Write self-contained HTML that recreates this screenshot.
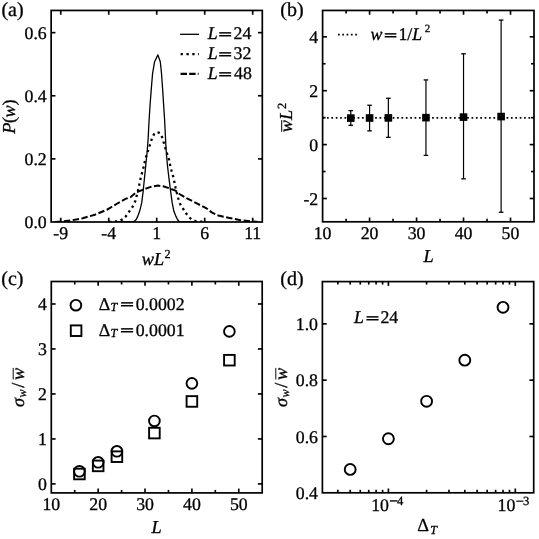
<!DOCTYPE html>
<html><head><meta charset="utf-8"><style>
html,body{margin:0;padding:0;background:#fff;}
svg{display:block;}
text{font-family:"Liberation Serif", "Times New Roman", serif;fill:#000;stroke:#000;stroke-width:0.3px;text-rendering:geometricPrecision;}
</style></head><body>
<svg width="539" height="539" viewBox="0 0 539 539">
<rect width="539" height="539" fill="#fff"/>
<defs><clipPath id="ca"><rect x="51.15" y="10.45" width="211.15" height="211.55"/></clipPath></defs>
<g clip-path="url(#ca)" fill="none" stroke="#000">
<polyline points="55,222 62.2,221.3 72.4,220.2 82.7,218.2 94.9,214.7 107.1,209.6 117.3,203.5 125.5,198.8 130.6,197.2 135.7,192.7 143.9,189.2 152,186.5 158,185.6 163.2,186.3 169.3,188.3 175.4,190.6 179.5,194 185.6,197.6 195.8,202.9 206,208 212.1,212.6 218.3,215.5 228.5,217.8 240.7,220.2 250.9,221.3 258,222" stroke-width="2.0" stroke-dasharray="6.4 2.5"/>
<polyline points="109.1,222 118.1,221.2 122.6,219.4 125.3,217 127.6,214 130.3,210 133.1,206 135.3,201 136.6,196 138.6,188 139.8,182 140.9,177 142.6,171 143.9,166 145.1,160 146.8,154.5 148.61,149 150.37,143.5 152.23,137.5 154.47,133.4 155.78,132.6 157.29,132.4 157.29,132.4 158.78,132.6 160.07,133.4 162.23,137.5 163.97,143.5 165.61,149 167.4,154.5 169.1,160 170.3,166 171.6,171 173.3,177 174.4,182 175.6,188 177.6,196 178.9,201 181.1,206 183.9,210 186.6,214 188.9,217 191.6,219.4 196.1,221.2 205.1,222" stroke-width="2.3" stroke-dasharray="2.3 3.5"/>
<polyline points="117,222 132.5,221.8 134.7,221 136.2,219.5 137.5,216.9 139.6,211.3 141.7,202.9 143.1,191.8 144.5,177.9 145.9,163.9 147.3,150 148.2,137.5 149.1,120 150.1,104.5 151.3,88.9 152.6,73.3 154.6,61.7 157.9,54.9 160.3,61.7 161.5,73.3 162.6,88.9 163.6,104.5 164.6,120 165.6,140 166.1,150 167.4,165 168.9,177.9 170.7,191.8 172.2,202.9 173.9,211.3 176.2,216.9 177.5,219.5 178.6,221 180.5,221.8 197,222" stroke-width="1.3" stroke-linejoin="round"/>
</g>
<rect x="51.15" y="10.45" width="211.15" height="211.55" fill="none" stroke="#000" stroke-width="1.7"/>
<line x1="60.75" y1="222" x2="60.75" y2="217.7" stroke="#000" stroke-width="1.65" />
<line x1="60.75" y1="10.45" x2="60.75" y2="14.75" stroke="#000" stroke-width="1.65" />
<line x1="108.74" y1="222" x2="108.74" y2="217.7" stroke="#000" stroke-width="1.65" />
<line x1="108.74" y1="10.45" x2="108.74" y2="14.75" stroke="#000" stroke-width="1.65" />
<line x1="156.72" y1="222" x2="156.72" y2="217.7" stroke="#000" stroke-width="1.65" />
<line x1="156.72" y1="10.45" x2="156.72" y2="14.75" stroke="#000" stroke-width="1.65" />
<line x1="204.71" y1="222" x2="204.71" y2="217.7" stroke="#000" stroke-width="1.65" />
<line x1="204.71" y1="10.45" x2="204.71" y2="14.75" stroke="#000" stroke-width="1.65" />
<line x1="252.7" y1="222" x2="252.7" y2="217.7" stroke="#000" stroke-width="1.65" />
<line x1="252.7" y1="10.45" x2="252.7" y2="14.75" stroke="#000" stroke-width="1.65" />
<line x1="51.15" y1="158.88" x2="55.45" y2="158.88" stroke="#000" stroke-width="1.65" />
<line x1="262.3" y1="158.88" x2="258" y2="158.88" stroke="#000" stroke-width="1.65" />
<line x1="51.15" y1="95.76" x2="55.45" y2="95.76" stroke="#000" stroke-width="1.65" />
<line x1="262.3" y1="95.76" x2="258" y2="95.76" stroke="#000" stroke-width="1.65" />
<line x1="51.15" y1="32.64" x2="55.45" y2="32.64" stroke="#000" stroke-width="1.65" />
<line x1="262.3" y1="32.64" x2="258" y2="32.64" stroke="#000" stroke-width="1.65" />
<text x="60.75" y="238.7" font-size="17.8" text-anchor="middle" >-9</text>
<text x="108.74" y="238.7" font-size="17.8" text-anchor="middle" >-4</text>
<text x="156.72" y="238.7" font-size="17.8" text-anchor="middle" >1</text>
<text x="204.71" y="238.7" font-size="17.8" text-anchor="middle" >6</text>
<text x="252.7" y="238.7" font-size="17.8" text-anchor="middle" >11</text>
<text x="46.75" y="228.2" font-size="17.8" text-anchor="end" >0.0</text>
<text x="46.75" y="165.08" font-size="17.8" text-anchor="end" >0.2</text>
<text x="46.75" y="101.96" font-size="17.8" text-anchor="end" >0.4</text>
<text x="46.75" y="38.84" font-size="17.8" text-anchor="end" >0.6</text>
<line x1="180.1" y1="34.3" x2="199" y2="34.3" stroke="#000" stroke-width="1.3" />
<line x1="180.6" y1="54.1" x2="198.9" y2="54.1" stroke="#000" stroke-width="2.3" stroke-dasharray="2.3 3.55"/>
<line x1="180.6" y1="73.8" x2="198.6" y2="73.8" stroke="#000" stroke-width="2.2" stroke-dasharray="6.4 2.2"/>
<text x="207.71" y="38.8" font-size="17.8" font-style="italic" >L</text>
<text transform="translate(218.42,39.3) scale(1.329,0.787)" font-size="17.8" style="stroke-width:0.75px">=</text>
<text x="233.62" y="38.8" font-size="17.8" >24</text>
<text x="207.71" y="58.8" font-size="17.8" font-style="italic" >L</text>
<text transform="translate(218.42,59.3) scale(1.329,0.787)" font-size="17.8" style="stroke-width:0.75px">=</text>
<text x="233.55" y="58.8" font-size="17.8" >32</text>
<text x="207.71" y="78.8" font-size="17.8" font-style="italic" >L</text>
<text transform="translate(218.42,79.3) scale(1.329,0.787)" font-size="17.8" style="stroke-width:0.75px">=</text>
<text x="234.04" y="78.8" font-size="17.8" >48</text>
<text x="141.76" y="264.5" font-size="18.3" font-style="italic" >wL</text>
<text x="164.56" y="257.9" font-size="12.2" >2</text>
<g transform="translate(15,133.8) rotate(-90)">
<text x="0.1" y="0" font-size="18.3" font-style="italic">P</text>
<text x="10.79" y="0" font-size="18.3">(</text>
<text x="16.26" y="0" font-size="18.3" font-style="italic">w</text>
<text x="28.21" y="0" font-size="18.3">)</text>
</g>
<text x="1.42" y="15.6" font-size="20.0" >(a)</text>
<rect x="322.6" y="10.45" width="211.4" height="211.35" fill="none" stroke="#000" stroke-width="1.7"/>
<line x1="369.58" y1="221.8" x2="369.58" y2="217.5" stroke="#000" stroke-width="1.65" />
<line x1="369.58" y1="10.45" x2="369.58" y2="14.75" stroke="#000" stroke-width="1.65" />
<line x1="416.56" y1="221.8" x2="416.56" y2="217.5" stroke="#000" stroke-width="1.65" />
<line x1="416.56" y1="10.45" x2="416.56" y2="14.75" stroke="#000" stroke-width="1.65" />
<line x1="463.53" y1="221.8" x2="463.53" y2="217.5" stroke="#000" stroke-width="1.65" />
<line x1="463.53" y1="10.45" x2="463.53" y2="14.75" stroke="#000" stroke-width="1.65" />
<line x1="510.51" y1="221.8" x2="510.51" y2="217.5" stroke="#000" stroke-width="1.65" />
<line x1="510.51" y1="10.45" x2="510.51" y2="14.75" stroke="#000" stroke-width="1.65" />
<line x1="346.09" y1="221.8" x2="346.09" y2="218.8" stroke="#000" stroke-width="1.65" />
<line x1="346.09" y1="10.45" x2="346.09" y2="13.45" stroke="#000" stroke-width="1.65" />
<line x1="393.07" y1="221.8" x2="393.07" y2="218.8" stroke="#000" stroke-width="1.65" />
<line x1="393.07" y1="10.45" x2="393.07" y2="13.45" stroke="#000" stroke-width="1.65" />
<line x1="440.04" y1="221.8" x2="440.04" y2="218.8" stroke="#000" stroke-width="1.65" />
<line x1="440.04" y1="10.45" x2="440.04" y2="13.45" stroke="#000" stroke-width="1.65" />
<line x1="487.02" y1="221.8" x2="487.02" y2="218.8" stroke="#000" stroke-width="1.65" />
<line x1="487.02" y1="10.45" x2="487.02" y2="13.45" stroke="#000" stroke-width="1.65" />
<line x1="322.6" y1="198.5" x2="326.9" y2="198.5" stroke="#000" stroke-width="1.65" />
<line x1="534" y1="198.5" x2="529.7" y2="198.5" stroke="#000" stroke-width="1.65" />
<line x1="322.6" y1="144.6" x2="326.9" y2="144.6" stroke="#000" stroke-width="1.65" />
<line x1="534" y1="144.6" x2="529.7" y2="144.6" stroke="#000" stroke-width="1.65" />
<line x1="322.6" y1="90.7" x2="326.9" y2="90.7" stroke="#000" stroke-width="1.65" />
<line x1="534" y1="90.7" x2="529.7" y2="90.7" stroke="#000" stroke-width="1.65" />
<line x1="322.6" y1="36.8" x2="326.9" y2="36.8" stroke="#000" stroke-width="1.65" />
<line x1="534" y1="36.8" x2="529.7" y2="36.8" stroke="#000" stroke-width="1.65" />
<line x1="322.6" y1="171.55" x2="325.6" y2="171.55" stroke="#000" stroke-width="1.65" />
<line x1="534" y1="171.55" x2="531" y2="171.55" stroke="#000" stroke-width="1.65" />
<line x1="322.6" y1="117.65" x2="325.6" y2="117.65" stroke="#000" stroke-width="1.65" />
<line x1="534" y1="117.65" x2="531" y2="117.65" stroke="#000" stroke-width="1.65" />
<line x1="322.6" y1="63.75" x2="325.6" y2="63.75" stroke="#000" stroke-width="1.65" />
<line x1="534" y1="63.75" x2="531" y2="63.75" stroke="#000" stroke-width="1.65" />
<text x="322.6" y="238.7" font-size="17.8" text-anchor="middle" >10</text>
<text x="369.58" y="238.7" font-size="17.8" text-anchor="middle" >20</text>
<text x="416.56" y="238.7" font-size="17.8" text-anchor="middle" >30</text>
<text x="463.53" y="238.7" font-size="17.8" text-anchor="middle" >40</text>
<text x="510.51" y="238.7" font-size="17.8" text-anchor="middle" >50</text>
<text x="318.2" y="204.7" font-size="17.8" text-anchor="end" >-2</text>
<text x="318.2" y="150.8" font-size="17.8" text-anchor="end" >0</text>
<text x="318.2" y="96.9" font-size="17.8" text-anchor="end" >2</text>
<text x="318.2" y="43" font-size="17.8" text-anchor="end" >4</text>
<line x1="322.6" y1="117.85" x2="534" y2="117.85" stroke="#000" stroke-width="1.7" stroke-dasharray="1.7 2.68"/>
<line x1="350.79" y1="110.64" x2="350.79" y2="125.3" stroke="#000" stroke-width="1.2" />
<line x1="348.49" y1="110.64" x2="353.09" y2="110.64" stroke="#000" stroke-width="1.3" />
<line x1="348.49" y1="125.3" x2="353.09" y2="125.3" stroke="#000" stroke-width="1.3" />
<rect x="346.99" y="114.31" width="7.6" height="7.6" fill="#000"/>
<line x1="369.58" y1="105.25" x2="369.58" y2="130.86" stroke="#000" stroke-width="1.2" />
<line x1="367.28" y1="105.25" x2="371.88" y2="105.25" stroke="#000" stroke-width="1.3" />
<line x1="367.28" y1="130.86" x2="371.88" y2="130.86" stroke="#000" stroke-width="1.3" />
<rect x="365.78" y="114.2" width="7.6" height="7.6" fill="#000"/>
<line x1="388.37" y1="98.25" x2="388.37" y2="137.32" stroke="#000" stroke-width="1.2" />
<line x1="386.07" y1="98.25" x2="390.67" y2="98.25" stroke="#000" stroke-width="1.3" />
<line x1="386.07" y1="137.32" x2="390.67" y2="137.32" stroke="#000" stroke-width="1.3" />
<rect x="384.57" y="114.12" width="7.6" height="7.6" fill="#000"/>
<line x1="425.95" y1="79.92" x2="425.95" y2="155.38" stroke="#000" stroke-width="1.2" />
<line x1="423.65" y1="79.92" x2="428.25" y2="79.92" stroke="#000" stroke-width="1.3" />
<line x1="423.65" y1="155.38" x2="428.25" y2="155.38" stroke="#000" stroke-width="1.3" />
<rect x="422.15" y="113.85" width="7.6" height="7.6" fill="#000"/>
<line x1="463.53" y1="53.78" x2="463.53" y2="178.83" stroke="#000" stroke-width="1.2" />
<line x1="461.23" y1="53.78" x2="465.83" y2="53.78" stroke="#000" stroke-width="1.3" />
<line x1="461.23" y1="178.83" x2="465.83" y2="178.83" stroke="#000" stroke-width="1.3" />
<rect x="459.73" y="113.31" width="7.6" height="7.6" fill="#000"/>
<line x1="501.12" y1="20.09" x2="501.12" y2="212.24" stroke="#000" stroke-width="1.2" />
<line x1="498.82" y1="20.09" x2="503.42" y2="20.09" stroke="#000" stroke-width="1.3" />
<line x1="498.82" y1="212.24" x2="503.42" y2="212.24" stroke="#000" stroke-width="1.3" />
<rect x="497.32" y="112.77" width="7.6" height="7.6" fill="#000"/>
<line x1="338" y1="34.6" x2="357" y2="34.6" stroke="#000" stroke-width="1.7" stroke-dasharray="1.7 2.6"/>
<text x="370.57" y="39.7" font-size="17.8" font-style="italic" >w</text>
<text transform="translate(384.04,39.5) scale(1.305,0.787)" font-size="17.8" style="stroke-width:0.75px">=</text>
<text x="398.43" y="39.7" font-size="17.8">1/<tspan font-style="italic">L</tspan></text>
<text x="424.82" y="31.8" font-size="11.0" >2</text>
<text x="423.62" y="261.5" font-size="18.3" font-style="italic" >L</text>
<g transform="translate(291.8,131.8) rotate(-90)">
<text x="-0.44" y="0" font-size="18.3" font-style="italic">w</text>
<text x="11.92" y="0" font-size="18.3" font-style="italic">L</text>
<text x="22.85" y="-6" font-size="12.5">2</text>
<line x1="0" y1="-10.1" x2="11.7" y2="-10.1" stroke="#000" stroke-width="1.0"/>
</g>
<text x="280.22" y="15.6" font-size="20.0" >(b)</text>
<rect x="51.3" y="281.5" width="210.9" height="211.4" fill="none" stroke="#000" stroke-width="1.7"/>
<line x1="98.17" y1="492.9" x2="98.17" y2="488.6" stroke="#000" stroke-width="1.65" />
<line x1="98.17" y1="281.5" x2="98.17" y2="285.8" stroke="#000" stroke-width="1.65" />
<line x1="145.03" y1="492.9" x2="145.03" y2="488.6" stroke="#000" stroke-width="1.65" />
<line x1="145.03" y1="281.5" x2="145.03" y2="285.8" stroke="#000" stroke-width="1.65" />
<line x1="191.9" y1="492.9" x2="191.9" y2="488.6" stroke="#000" stroke-width="1.65" />
<line x1="191.9" y1="281.5" x2="191.9" y2="285.8" stroke="#000" stroke-width="1.65" />
<line x1="238.77" y1="492.9" x2="238.77" y2="488.6" stroke="#000" stroke-width="1.65" />
<line x1="238.77" y1="281.5" x2="238.77" y2="285.8" stroke="#000" stroke-width="1.65" />
<line x1="74.73" y1="492.9" x2="74.73" y2="489.9" stroke="#000" stroke-width="1.65" />
<line x1="74.73" y1="281.5" x2="74.73" y2="284.5" stroke="#000" stroke-width="1.65" />
<line x1="121.6" y1="492.9" x2="121.6" y2="489.9" stroke="#000" stroke-width="1.65" />
<line x1="121.6" y1="281.5" x2="121.6" y2="284.5" stroke="#000" stroke-width="1.65" />
<line x1="168.47" y1="492.9" x2="168.47" y2="489.9" stroke="#000" stroke-width="1.65" />
<line x1="168.47" y1="281.5" x2="168.47" y2="284.5" stroke="#000" stroke-width="1.65" />
<line x1="215.33" y1="492.9" x2="215.33" y2="489.9" stroke="#000" stroke-width="1.65" />
<line x1="215.33" y1="281.5" x2="215.33" y2="284.5" stroke="#000" stroke-width="1.65" />
<line x1="51.3" y1="483.9" x2="55.6" y2="483.9" stroke="#000" stroke-width="1.65" />
<line x1="262.2" y1="483.9" x2="257.9" y2="483.9" stroke="#000" stroke-width="1.65" />
<line x1="51.3" y1="438.92" x2="55.6" y2="438.92" stroke="#000" stroke-width="1.65" />
<line x1="262.2" y1="438.92" x2="257.9" y2="438.92" stroke="#000" stroke-width="1.65" />
<line x1="51.3" y1="393.94" x2="55.6" y2="393.94" stroke="#000" stroke-width="1.65" />
<line x1="262.2" y1="393.94" x2="257.9" y2="393.94" stroke="#000" stroke-width="1.65" />
<line x1="51.3" y1="348.96" x2="55.6" y2="348.96" stroke="#000" stroke-width="1.65" />
<line x1="262.2" y1="348.96" x2="257.9" y2="348.96" stroke="#000" stroke-width="1.65" />
<line x1="51.3" y1="303.98" x2="55.6" y2="303.98" stroke="#000" stroke-width="1.65" />
<line x1="262.2" y1="303.98" x2="257.9" y2="303.98" stroke="#000" stroke-width="1.65" />
<text x="51.3" y="509.9" font-size="17.8" text-anchor="middle" >10</text>
<text x="98.17" y="509.9" font-size="17.8" text-anchor="middle" >20</text>
<text x="145.03" y="509.9" font-size="17.8" text-anchor="middle" >30</text>
<text x="191.9" y="509.9" font-size="17.8" text-anchor="middle" >40</text>
<text x="238.77" y="509.9" font-size="17.8" text-anchor="middle" >50</text>
<text x="46.9" y="490.1" font-size="17.8" text-anchor="end" >0</text>
<text x="46.9" y="445.12" font-size="17.8" text-anchor="end" >1</text>
<text x="46.9" y="400.14" font-size="17.8" text-anchor="end" >2</text>
<text x="46.9" y="355.16" font-size="17.8" text-anchor="end" >3</text>
<text x="46.9" y="310.18" font-size="17.8" text-anchor="end" >4</text>
<circle cx="79.42" cy="471.31" r="5.35" fill="none" stroke="#000" stroke-width="1.9"/>
<circle cx="98.17" cy="462.31" r="5.35" fill="none" stroke="#000" stroke-width="1.9"/>
<circle cx="116.91" cy="451.29" r="5.35" fill="none" stroke="#000" stroke-width="1.9"/>
<circle cx="154.41" cy="420.93" r="5.35" fill="none" stroke="#000" stroke-width="1.9"/>
<circle cx="191.9" cy="383.37" r="5.35" fill="none" stroke="#000" stroke-width="1.9"/>
<circle cx="229.39" cy="331.42" r="5.35" fill="none" stroke="#000" stroke-width="1.9"/>
<rect x="74.12" y="468.7" width="10.6" height="10.6" fill="none" stroke="#000" stroke-width="1.9"/>
<rect x="92.87" y="460.61" width="10.6" height="10.6" fill="none" stroke="#000" stroke-width="1.9"/>
<rect x="111.61" y="451.39" width="10.6" height="10.6" fill="none" stroke="#000" stroke-width="1.9"/>
<rect x="149.11" y="427.77" width="10.6" height="10.6" fill="none" stroke="#000" stroke-width="1.9"/>
<rect x="186.6" y="396.15" width="10.6" height="10.6" fill="none" stroke="#000" stroke-width="1.9"/>
<rect x="224.09" y="354.9" width="10.6" height="10.6" fill="none" stroke="#000" stroke-width="1.9"/>
<circle cx="75.9" cy="305.2" r="5.35" fill="none" stroke="#000" stroke-width="1.9"/>
<rect x="70.8" y="325.4" width="10.6" height="10.6" fill="none" stroke="#000" stroke-width="1.9"/>
<text x="98.72" y="310" font-size="17.8" >Δ</text>
<text x="110.41" y="311.4" font-size="12.2" font-style="italic" >T</text>
<text transform="translate(120.2,309.3) scale(1.353,0.787)" font-size="17.8" style="stroke-width:0.75px">=</text>
<text x="135.72" y="310" font-size="17.8" >0.0002</text>
<text x="98.72" y="335.8" font-size="17.8" >Δ</text>
<text x="110.41" y="337.2" font-size="12.2" font-style="italic" >T</text>
<text transform="translate(120.2,335.1) scale(1.353,0.787)" font-size="17.8" style="stroke-width:0.75px">=</text>
<text x="135.72" y="335.8" font-size="17.8" >0.0001</text>
<text x="151.62" y="532.6" font-size="18.3" font-style="italic" >L</text>
<g transform="translate(24,406.6) rotate(-90)">
<text x="-0.35" y="0" font-size="18.3" font-style="italic">σ</text>
<text x="9.21" y="2.3" font-size="12.2" font-style="italic">w</text>
<text x="18.8" y="0" font-size="18.3">/</text>
<text x="26.66" y="0" font-size="18.3" font-style="italic">w</text>
<line x1="27.1" y1="-10.8" x2="38.7" y2="-10.8" stroke="#000" stroke-width="0.95"/>
</g>
<text x="1.32" y="285.3" font-size="20.0" >(c)</text>
<rect x="322.4" y="281.6" width="211.3" height="211.2" fill="none" stroke="#000" stroke-width="1.7"/>
<line x1="388.4" y1="492.8" x2="388.4" y2="488.5" stroke="#000" stroke-width="1.65" />
<line x1="388.4" y1="281.6" x2="388.4" y2="285.9" stroke="#000" stroke-width="1.65" />
<line x1="515.3" y1="492.8" x2="515.3" y2="488.5" stroke="#000" stroke-width="1.65" />
<line x1="515.3" y1="281.6" x2="515.3" y2="285.9" stroke="#000" stroke-width="1.65" />
<line x1="337.9" y1="492.8" x2="337.9" y2="489.8" stroke="#000" stroke-width="1.65" />
<line x1="337.9" y1="281.6" x2="337.9" y2="284.6" stroke="#000" stroke-width="1.65" />
<line x1="350.2" y1="492.8" x2="350.2" y2="489.8" stroke="#000" stroke-width="1.65" />
<line x1="350.2" y1="281.6" x2="350.2" y2="284.6" stroke="#000" stroke-width="1.65" />
<line x1="360.25" y1="492.8" x2="360.25" y2="489.8" stroke="#000" stroke-width="1.65" />
<line x1="360.25" y1="281.6" x2="360.25" y2="284.6" stroke="#000" stroke-width="1.65" />
<line x1="368.74" y1="492.8" x2="368.74" y2="489.8" stroke="#000" stroke-width="1.65" />
<line x1="368.74" y1="281.6" x2="368.74" y2="284.6" stroke="#000" stroke-width="1.65" />
<line x1="376.1" y1="492.8" x2="376.1" y2="489.8" stroke="#000" stroke-width="1.65" />
<line x1="376.1" y1="281.6" x2="376.1" y2="284.6" stroke="#000" stroke-width="1.65" />
<line x1="382.59" y1="492.8" x2="382.59" y2="489.8" stroke="#000" stroke-width="1.65" />
<line x1="382.59" y1="281.6" x2="382.59" y2="284.6" stroke="#000" stroke-width="1.65" />
<line x1="426.6" y1="492.8" x2="426.6" y2="489.8" stroke="#000" stroke-width="1.65" />
<line x1="426.6" y1="281.6" x2="426.6" y2="284.6" stroke="#000" stroke-width="1.65" />
<line x1="448.95" y1="492.8" x2="448.95" y2="489.8" stroke="#000" stroke-width="1.65" />
<line x1="448.95" y1="281.6" x2="448.95" y2="284.6" stroke="#000" stroke-width="1.65" />
<line x1="464.8" y1="492.8" x2="464.8" y2="489.8" stroke="#000" stroke-width="1.65" />
<line x1="464.8" y1="281.6" x2="464.8" y2="284.6" stroke="#000" stroke-width="1.65" />
<line x1="477.1" y1="492.8" x2="477.1" y2="489.8" stroke="#000" stroke-width="1.65" />
<line x1="477.1" y1="281.6" x2="477.1" y2="284.6" stroke="#000" stroke-width="1.65" />
<line x1="487.15" y1="492.8" x2="487.15" y2="489.8" stroke="#000" stroke-width="1.65" />
<line x1="487.15" y1="281.6" x2="487.15" y2="284.6" stroke="#000" stroke-width="1.65" />
<line x1="495.64" y1="492.8" x2="495.64" y2="489.8" stroke="#000" stroke-width="1.65" />
<line x1="495.64" y1="281.6" x2="495.64" y2="284.6" stroke="#000" stroke-width="1.65" />
<line x1="503" y1="492.8" x2="503" y2="489.8" stroke="#000" stroke-width="1.65" />
<line x1="503" y1="281.6" x2="503" y2="284.6" stroke="#000" stroke-width="1.65" />
<line x1="509.49" y1="492.8" x2="509.49" y2="489.8" stroke="#000" stroke-width="1.65" />
<line x1="509.49" y1="281.6" x2="509.49" y2="284.6" stroke="#000" stroke-width="1.65" />
<line x1="322.4" y1="436.48" x2="326.7" y2="436.48" stroke="#000" stroke-width="1.65" />
<line x1="533.7" y1="436.48" x2="529.4" y2="436.48" stroke="#000" stroke-width="1.65" />
<line x1="322.4" y1="380.16" x2="326.7" y2="380.16" stroke="#000" stroke-width="1.65" />
<line x1="533.7" y1="380.16" x2="529.4" y2="380.16" stroke="#000" stroke-width="1.65" />
<line x1="322.4" y1="323.84" x2="326.7" y2="323.84" stroke="#000" stroke-width="1.65" />
<line x1="533.7" y1="323.84" x2="529.4" y2="323.84" stroke="#000" stroke-width="1.65" />
<text x="318" y="499" font-size="17.8" text-anchor="end" >0.4</text>
<text x="318" y="442.68" font-size="17.8" text-anchor="end" >0.6</text>
<text x="318" y="386.36" font-size="17.8" text-anchor="end" >0.8</text>
<text x="318" y="330.04" font-size="17.8" text-anchor="end" >1.0</text>
<text x="371.23" y="510.9" font-size="17.8" >10</text>
<text x="389.33" y="506.24" font-size="15.48" >−</text>
<text x="397.05" y="505.1" font-size="12.6" >4</text>
<text x="497.53" y="510.9" font-size="17.8" >10</text>
<text x="515.67" y="506.26" font-size="14.62" >−</text>
<text x="523" y="505.1" font-size="12.6" >3</text>
<circle cx="350.2" cy="469.43" r="5.45" fill="none" stroke="#000" stroke-width="1.9"/>
<circle cx="388.4" cy="438.73" r="5.45" fill="none" stroke="#000" stroke-width="1.9"/>
<circle cx="426.6" cy="401.28" r="5.45" fill="none" stroke="#000" stroke-width="1.9"/>
<circle cx="464.8" cy="360.17" r="5.45" fill="none" stroke="#000" stroke-width="1.9"/>
<circle cx="503" cy="307.34" r="5.45" fill="none" stroke="#000" stroke-width="1.9"/>
<text x="354.11" y="322.8" font-size="17.8" font-style="italic" >L</text>
<text transform="translate(365.81,323.3) scale(1.341,0.787)" font-size="17.8" style="stroke-width:0.75px">=</text>
<text x="380.42" y="322.8" font-size="17.8" >24</text>
<text x="417.3" y="531.4" font-size="18.3" >Δ</text>
<text x="430.21" y="533.9" font-size="12.2" font-style="italic" >T</text>
<g transform="translate(286.6,406.6) rotate(-90)">
<text x="-0.35" y="0" font-size="18.3" font-style="italic">σ</text>
<text x="9.21" y="2.3" font-size="12.2" font-style="italic">w</text>
<text x="18.8" y="0" font-size="18.3">/</text>
<text x="26.66" y="0" font-size="18.3" font-style="italic">w</text>
<line x1="27.1" y1="-10.8" x2="38.7" y2="-10.8" stroke="#000" stroke-width="0.95"/>
</g>
<text x="280.22" y="285.3" font-size="20.0" >(d)</text>
</svg>
</body></html>
